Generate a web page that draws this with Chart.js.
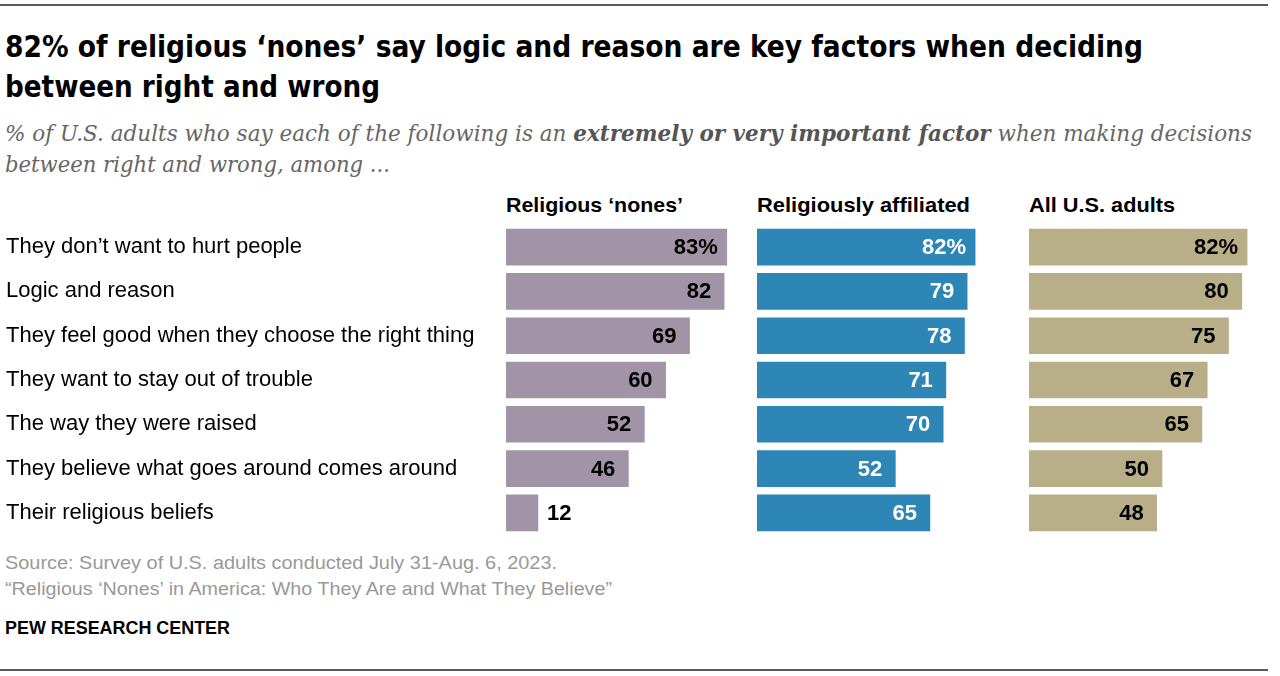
<!DOCTYPE html>
<html>
<head>
<meta charset="utf-8">
<script src="https://cdn.jsdelivr.net/npm/chart.js@4.4.1/dist/chart.umd.min.js"></script>
<style>
  html,body{margin:0;padding:0;background:#fff;width:1280px;height:676px;overflow:hidden;position:relative;}
  .rule{position:absolute;left:0;width:1268px;height:2px;background:#5a5a5a;}
  .txt{position:absolute;white-space:nowrap;display:inline-block;line-height:1;transform-origin:0 0;}
  .title{font-family:"Liberation Sans Narrow","DejaVu Sans Condensed","Liberation Sans",Arial,sans-serif;font-weight:bold;font-size:30px;color:#000;}
  .sub{font-family:"DejaVu Serif",Georgia,"Liberation Serif",serif;font-style:italic;font-size:22px;color:#666;}
  .sub b{color:#555;}
  .head{font-family:"Liberation Sans",Arial,sans-serif;font-weight:bold;font-size:21px;color:#000;}
  .src{font-family:"Liberation Sans Narrow","Liberation Sans",Arial,sans-serif;font-size:18px;color:#999;}
  .pew{font-family:"Liberation Sans Narrow","Liberation Sans",Arial,sans-serif;font-weight:bold;font-size:18px;color:#000;}
  canvas{position:absolute;}
</style>
</head>
<body>
<div class="rule" style="top:4px"></div>
<div class="rule" style="top:669px"></div>

<div class="txt title" data-w="1138" style="left:5px;top:32px">82% of religious ‘nones’ say logic and reason are key factors when deciding</div>
<div class="txt title" data-w="375" style="left:5px;top:72px">between right and wrong</div>

<div class="txt sub" data-w="1247" style="left:5px;top:122px">% of U.S. adults who say each of the following is an <b>extremely or very important factor</b> when making decisions</div>
<div class="txt sub" data-w="385" style="left:5px;top:154px">between right and wrong, among ...</div>

<div id="h0" class="txt head" data-w="177" style="top:194px"></div>
<div id="h1" class="txt head" data-w="213" style="top:194px"></div>
<div id="h2" class="txt head" data-w="146" style="top:194px"></div>

<canvas id="c0"></canvas>
<canvas id="c1"></canvas>
<canvas id="c2"></canvas>

<div class="txt src" data-w="552" style="left:5px;top:554px">Source: Survey of U.S. adults conducted July 31-Aug. 6, 2023.</div>
<div class="txt src" data-w="607" style="left:5px;top:580px">“Religious ‘Nones’ in America: Who They Are and What They Believe”</div>
<div class="txt pew" data-w="225" style="left:5px;top:619px">PEW RESEARCH CENTER</div>

<script>
// ---------------- DATA ----------------
const categories = [
  "They don’t want to hurt people",
  "Logic and reason",
  "They feel good when they choose the right thing",
  "They want to stay out of trouble",
  "The way they were raised",
  "They believe what goes around comes around",
  "Their religious beliefs"
];
const nones      = [83, 82, 69, 60, 52, 46, 12];
const affiliated = [82, 79, 78, 71, 70, 52, 65];
const allAdults  = [82, 80, 75, 67, 65, 50, 48];
const panelTitles = ["Religious ‘nones’", "Religiously affiliated", "All U.S. adults"];

// ---------------- LAYOUT / STYLE ----------------
const pxPerUnit = 2.66;
const chartTop = 225, chartHeight = 310;
const labelAxisWidth = 500;
const panels = [
  {data: nones,      color: "#A194A6", text: "#000", left: 506,  width: 266, withLabels: true},
  {data: affiliated, color: "#2E86B6", text: "#fff", left: 757,  width: 266, withLabels: false},
  {data: allAdults,  color: "#B8AF88", text: "#000", left: 1029, width: 240, withLabels: false}
];
const valueFont = 'bold 22px "Liberation Sans", Arial, sans-serif';

const valueLabels = {
  id: "valueLabels",
  afterDatasetsDraw(chart, args, opts) {
    const ctx = chart.ctx;
    const meta = chart.getDatasetMeta(0);
    const vals = chart.data.datasets[0].data;
    ctx.save();
    ctx.font = valueFont;
    ctx.textBaseline = "middle";
    meta.data.forEach((bar, i) => {
      const v = vals[i];
      const txt = i === 0 ? v + "%" : String(v);
      const len = bar.x - bar.base;
      if (len < 60) {
        ctx.fillStyle = "#000";
        ctx.textAlign = "left";
        ctx.fillText(txt, bar.x + 9, bar.y + 1);
      } else {
        ctx.fillStyle = opts.color;
        ctx.textAlign = "right";
        ctx.fillText(txt, bar.x - (i === 0 ? 9 : 13), bar.y + 1);
      }
    });
    ctx.restore();
  }
};

panels.forEach((p, k) => {
  const h = document.getElementById("h" + k);
  h.textContent = panelTitles[k];
  h.style.left = p.left + "px";

  const cv = document.getElementById("c" + k);
  const canvasLeft = p.withLabels ? p.left - labelAxisWidth : p.left;
  const canvasWidth = p.withLabels ? labelAxisWidth + p.width : p.width;
  cv.style.left = canvasLeft + "px";
  cv.style.top = chartTop + "px";
  cv.style.width = canvasWidth + "px";
  cv.style.height = chartHeight + "px";
  cv.width = canvasWidth; cv.height = chartHeight;

  const yAxis = {
    display: p.withLabels,
    grid: {display: false},
    border: {display: false},
    ticks: {
      crossAlign: "far",
      color: "#000",
      font: {family: '"Liberation Sans", Arial, sans-serif', size: 22}
    }
  };
  if (p.withLabels) yAxis.afterFit = (scale) => {
    scale.width = labelAxisWidth;
    scale.paddingTop = 0;
    scale.paddingBottom = 0;
  };

  new Chart(cv, {
    type: "bar",
    data: {
      labels: categories,
      datasets: [{
        data: p.data,
        backgroundColor: p.color,
        borderWidth: 0,
        barThickness: 36
      }]
    },
    options: {
      indexAxis: "y",
      responsive: false,
      animation: false,
      events: [],
      layout: {padding: 0, autoPadding: false},
      plugins: {
        legend: {display: false},
        tooltip: {enabled: false},
        valueLabels: {color: p.text}
      },
      scales: {
        x: {
          display: false,
          min: 0,
          max: p.width / pxPerUnit
        },
        y: yAxis
      }
    },
    plugins: [valueLabels]
  });
});

// fit text widths to the reference
function fitAll() {
  document.querySelectorAll(".txt[data-w]").forEach(el => {
    el.style.transform = "none";
    const w = el.getBoundingClientRect().width;
    const target = parseFloat(el.dataset.w);
    if (w > 0) el.style.transform = "scaleX(" + (target / w) + ")";
  });
}
fitAll();
if (document.fonts && document.fonts.ready) document.fonts.ready.then(fitAll);
</script>
</body>
</html>
